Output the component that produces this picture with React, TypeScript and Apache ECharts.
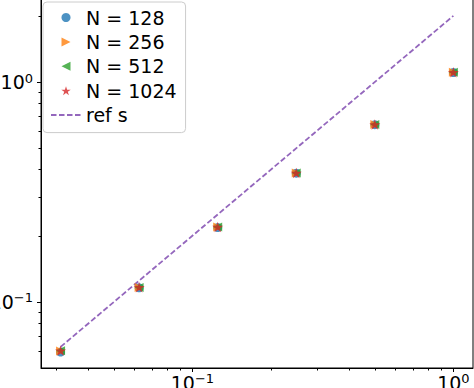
import React, { useEffect, useRef } from "react";
import * as echarts from "echarts";

// ---- data ----
const hValues = [0.03125, 0.0625, 0.125, 0.25, 0.5, 1];
const errN128 = [0.0592, 0.1160, 0.218, 0.385, 0.640, 1.105];
const errN256 = [0.0598, 0.1163, 0.219, 0.386, 0.641, 1.107];
const errN512 = [0.0600, 0.1165, 0.219, 0.386, 0.641, 1.107];
const errN1024 = [0.0601, 0.1166, 0.219, 0.386, 0.641, 1.108];
const refX = [0.03125, 1];
const refY = [0.0625, 2];
const seriesNames = ["N = 128", "N = 256", "N = 512", "N = 1024", "ref s"];

// ---- axis ticks ----
const majorTicks = [0.1, 1];
const majorExponents = ["\u22121", "0"];
const xMinorTicks = [0.03, 0.04, 0.05, 0.06, 0.07, 0.08, 0.09, 0.2, 0.3, 0.4, 0.5, 0.6, 0.7, 0.8, 0.9];
const yMinorTicks = [0.06, 0.07, 0.08, 0.09, 0.2, 0.3, 0.4, 0.5, 0.6, 0.7, 0.8, 0.9, 2];
const xRange = [0.02629, 1.189];
const yRange = [0.0501, 2.385];

const FONT = "DejaVu Sans";
const STAR =
  "path://M100 0 L122.45 69.1 L195.1 69.1 L136.3 111.8 L158.8 180.9 L100 138.2 L41.2 180.9 L63.7 111.8 L4.9 69.1 L77.55 69.1 Z";
const TRI_RIGHT = "path://M0 0 L20 10 L0 20 Z";
const TRI_LEFT = "path://M20 0 L0 10 L20 20 Z";

const zip = (xs: number[], ys: number[]) => xs.map((x, i) => [x, ys[i]]);

const labelFormatter = (v: number) => {
  const i = majorTicks.findIndex((t) => Math.abs(t - v) < 1e-6 * t);
  return i < 0 ? "" : `{a|10}{b|${majorExponents[i]}}`;
};

const rich = {
  a: { fontSize: 19, fontFamily: FONT, color: "#000", lineHeight: 21 },
  b: { fontSize: 13, fontFamily: FONT, color: "#000", lineHeight: 13, padding: [0, 0, 8, 0] },
};

export default function App() {
  const ref = useRef<HTMLDivElement>(null);
  useEffect(() => {
    if (!ref.current) return;
    const chart = echarts.init(ref.current, undefined, { renderer: "svg" });
    const common = { type: "log" as const, logBase: 10, splitLine: { show: false } };
    const tickStyle = { color: "#000", width: 1 };
    chart.setOption({
      animation: false,
      backgroundColor: "#fff",
      grid: {
        left: 41,
        right: 1,
        top: -1,
        bottom: 20,
        outerBoundsMode: "none",
        containLabel: false,
        show: true,
        borderColor: "#000",
        borderWidth: 1,
        backgroundColor: "transparent",
      },
      legend: {
        orient: "vertical",
        left: 43,
        top: 2,
        padding: [6, 9, 8, 7],
        itemWidth: 30,
        itemHeight: 9,
        itemGap: 5.4,
        symbolKeepAspect: true,
        backgroundColor: "rgba(255,255,255,0.8)",
        borderColor: "#cccccc",
        borderWidth: 1,
        borderRadius: 4,
        textStyle: { fontFamily: FONT, fontSize: 19, color: "#000", lineHeight: 19 },
        data: [
          { name: seriesNames[0] },
          { name: seriesNames[1] },
          { name: seriesNames[2] },
          { name: seriesNames[3] },
          { name: seriesNames[4], itemStyle: { color: "rgba(0,0,0,0)", opacity: 0 } },
        ],
      },
      xAxis: [
        {
          ...common,
          min: xRange[0],
          max: xRange[1],
          position: "bottom",
          axisLine: { show: true, lineStyle: { color: "#000", width: 1 } },
          axisTick: { show: true, length: 4, customValues: majorTicks, lineStyle: tickStyle },
          axisLabel: {
            customValues: majorTicks,
            formatter: labelFormatter,
            rich,
            margin: 4,
            fontFamily: FONT,
          },
        },
        {
          ...common,
          min: xRange[0],
          max: xRange[1],
          position: "bottom",
          axisLine: { show: false },
          axisTick: { show: true, length: 2.5, customValues: xMinorTicks, lineStyle: tickStyle },
          axisLabel: { show: false },
        },
      ],
      yAxis: [
        {
          ...common,
          min: yRange[0],
          max: yRange[1],
          position: "left",
          axisLine: { show: true, lineStyle: { color: "#000", width: 1 } },
          axisTick: { show: true, length: 4, customValues: majorTicks, lineStyle: tickStyle },
          axisLabel: {
            customValues: majorTicks,
            formatter: labelFormatter,
            rich,
            margin: 8,
            fontFamily: FONT,
          },
        },
        {
          ...common,
          min: yRange[0],
          max: yRange[1],
          position: "left",
          axisLine: { show: false },
          axisTick: { show: true, length: 2.5, customValues: yMinorTicks, lineStyle: tickStyle },
          axisLabel: { show: false },
        },
      ],
      series: [
        {
          name: seriesNames[0],
          type: "scatter",
          data: zip(hValues, errN128),
          symbol: "circle",
          symbolSize: 9,
          symbolKeepAspect: true,
          itemStyle: { color: "#1f77b4" },
        },
        {
          name: seriesNames[1],
          type: "scatter",
          data: zip(hValues, errN256),
          symbol: TRI_RIGHT,
          symbolSize: 9,
          symbolKeepAspect: true,
          itemStyle: { color: "#ff7f0e" },
        },
        {
          name: seriesNames[2],
          type: "scatter",
          data: zip(hValues, errN512),
          symbol: TRI_LEFT,
          symbolSize: 9,
          symbolKeepAspect: true,
          itemStyle: { color: "#2ca02c" },
        },
        {
          name: seriesNames[3],
          type: "scatter",
          data: zip(hValues, errN1024),
          symbol: STAR,
          symbolSize: 11,
          symbolKeepAspect: true,
          itemStyle: { color: "#d62728" },
        },
        {
          name: seriesNames[4],
          type: "line",
          data: zip(refX, refY),
          symbol: "none",
          showSymbol: false,
          lineStyle: { color: "#9467bd", width: 1.8, type: [5.5, 2.5] },
          itemStyle: { color: "#9467bd" },
          z: 1,
        },
      ],
    });
    return () => chart.dispose();
  }, []);
  return (
    <div
      ref={ref}
      style={{ position: "fixed", left: 0, top: 0, width: 474, height: 388, background: "#fff" }}
    />
  );
}
